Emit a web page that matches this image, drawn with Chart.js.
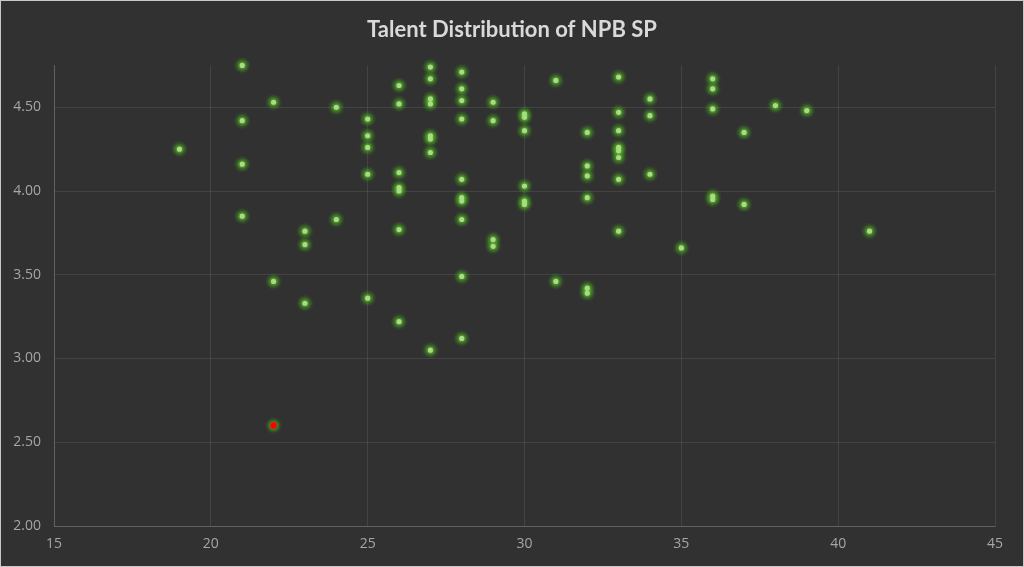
<!DOCTYPE html>
<html>
<head>
<meta charset="utf-8">
<script src="https://cdn.jsdelivr.net/npm/chart.js@4/dist/chart.umd.min.js"></script>
<style>
  html, body { margin: 0; padding: 0; background: #ffffff; }
  #wrap { position: absolute; left: 0; top: 0; width: 1022px; height: 565px; border: 1px solid #c8c8c8; background: #313131; }
  canvas { display: block; }
</style>
</head>
<body>
<div id="wrap"><canvas id="c" width="1022" height="565"></canvas></div>
<script>
// Age (x) of each pitcher
const ages = [
  19,
  21, 21, 21, 21,
  22, 22,
  23, 23, 23,
  24, 24,
  25, 25, 25, 25, 25,
  26, 26, 26, 26, 26, 26, 26,
  27, 27, 27, 27, 27, 27, 27, 27,
  28, 28, 28, 28, 28, 28, 28, 28, 28, 28,
  29, 29, 29, 29,
  30, 30, 30, 30, 30, 30,
  31, 31,
  32, 32, 32, 32, 32, 32,
  33, 33, 33, 33, 33, 33, 33, 33,
  34, 34, 34,
  35,
  36, 36, 36, 36, 36,
  37, 37,
  38,
  39,
  41
];
// Talent rating (y) of each pitcher
const talent = [
  4.25,
  4.75, 4.42, 4.16, 3.85,
  4.53, 3.46,
  3.76, 3.68, 3.33,
  4.50, 3.83,
  4.43, 4.33, 4.26, 4.10, 3.36,
  4.63, 4.52, 4.11, 4.02, 4.00, 3.77, 3.22,
  4.74, 4.67, 4.55, 4.52, 4.33, 4.31, 4.23, 3.05,
  4.71, 4.61, 4.54, 4.43, 4.07, 3.96, 3.94, 3.83, 3.49, 3.12,
  4.53, 4.42, 3.71, 3.67,
  4.46, 4.44, 4.36, 4.03, 3.94, 3.92,
  4.66, 3.46,
  4.35, 4.15, 4.09, 3.96, 3.42, 3.39,
  4.68, 4.47, 4.36, 4.26, 4.24, 4.20, 4.07, 3.76,
  4.55, 4.45, 4.10,
  3.66,
  4.67, 4.61, 4.49, 3.97, 3.95,
  4.35, 3.92,
  4.51,
  4.48,
  3.76
];
// Highlighted pitcher
const highlightAge = [22];
const highlightTalent = [2.60];

const xTicks = [15, 20, 25, 30, 35, 40, 45];
const yTicks = [2.00, 2.50, 3.00, 3.50, 4.00, 4.50];

const mainPoints = ages.map((a, i) => ({ x: a, y: talent[i] }));
const redPoints = highlightAge.map((a, i) => ({ x: a, y: highlightTalent[i] }));
const allPoints = mainPoints.concat(redPoints);

function layer(label, data, radius, color) {
  return {
    label: label,
    data: data,
    pointRadius: radius,
    pointHoverRadius: radius,
    backgroundColor: color,
    borderWidth: 0,
    clip: false
  };
}

new Chart(document.getElementById('c'), {
  type: 'scatter',
  data: {
    datasets: [
      layer('Highlight', redPoints, 3.2, '#ff0000'),
      layer('SP', mainPoints, 2.6, '#a8dc84'),
      layer('glow-1', allPoints, 4, 'rgba(100,190,50,0.34)'),
      layer('glow-2', allPoints, 5.5, 'rgba(85,170,40,0.28)'),
      layer('glow-3', allPoints, 7, 'rgba(70,150,35,0.22)'),
      layer('glow-4', allPoints, 8.5, 'rgba(60,130,30,0.12)')
    ]
  },
  options: {
    responsive: false,
    animation: false,
    events: [],
    layout: { padding: 0 },
    plugins: {
      legend: { display: false },
      tooltip: { enabled: false },
      title: {
        display: true,
        text: 'Talent Distribution of NPB SP',
        color: '#d9d9d9',
        font: { family: 'Lato', size: 22, weight: 'bold', lineHeight: 1.2 },
        padding: { top: 16, bottom: 22 }
      }
    },
    scales: {
      x: {
        type: 'linear',
        min: xTicks[0],
        max: xTicks[xTicks.length - 1],
        afterBuildTicks(scale) { scale.ticks = xTicks.map(v => ({ value: v })); },
        afterFit(scale) { scale.height = 40; scale.paddingRight = 28; },
        ticks: {
          color: '#a6a6a6',
          font: { family: 'Open Sans', size: 14 },
          padding: 10,
          callback: v => String(v)
        },
        grid: { color: 'rgba(255,255,255,0.09)', drawTicks: false, lineWidth: 1 },
        border: { color: 'rgba(255,255,255,0.16)' }
      },
      y: {
        type: 'linear',
        min: 2.0,
        max: 4.75,
        afterBuildTicks(scale) { scale.ticks = yTicks.map(v => ({ value: v })); },
        afterFit(scale) { scale.width = 53; },
        ticks: {
          color: '#a6a6a6',
          font: { family: 'Open Sans', size: 14 },
          padding: 13,
          callback: v => Number(v).toFixed(2)
        },
        grid: { color: 'rgba(255,255,255,0.09)', drawTicks: false, lineWidth: 1 },
        border: { color: 'rgba(255,255,255,0.16)' }
      }
    }
  }
});
</script>
</body>
</html>
